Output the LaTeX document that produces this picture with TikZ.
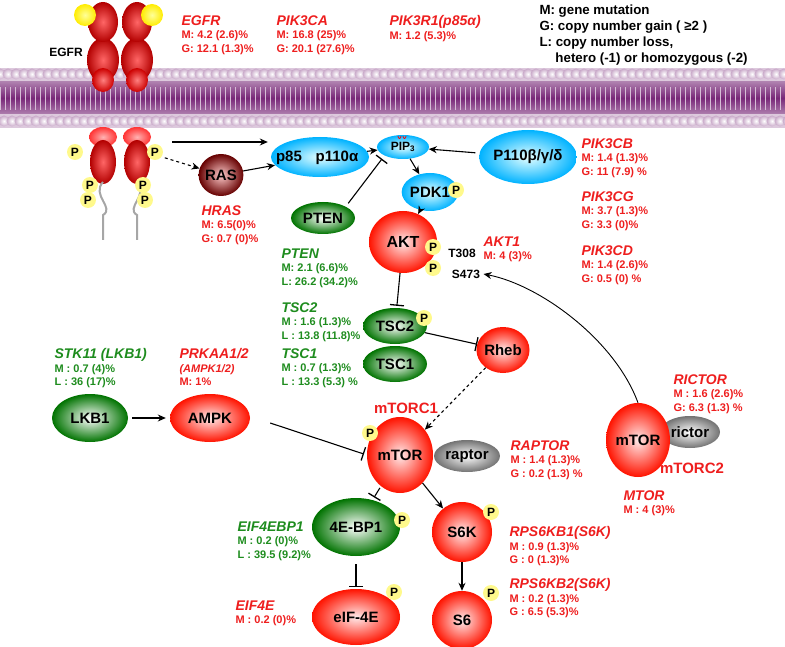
\documentclass[tikz,border=0pt]{standalone}
\usepackage{fontspec}
\setmainfont{Liberation Sans}
\usetikzlibrary{shapes.geometric,arrows.meta}
\definecolor{gred}{RGB}{238,30,30}
\definecolor{ggreen}{RGB}{30,140,30}
\definecolor{mem}{RGB}{120,40,120}
\newcommand\genef{\bfseries\itshape\fontsize{14}{15}\selectfont}
\tikzset{
  mol/.style={ellipse, draw=none, font=\bfseries\fontsize{15}{15}\selectfont, inner sep=0pt},
  red ball/.style={mol, inner color=red!8, outer color=red!85!orange},
  green ball/.style={mol, inner color=white, outer color=green!45!black},
  blue ball/.style={mol, inner color=cyan!10, outer color=cyan!70!blue},
  grey ball/.style={mol, inner color=white, outer color=black!55},
  phos/.style={circle, fill=yellow!45, inner sep=0pt, minimum size=16pt, font=\bfseries\fontsize{12}{12}\selectfont},
  redtxt/.style={anchor=north west, align=left, text=gred, font=\bfseries\fontsize{11}{13.5}\selectfont},
  greentxt/.style={redtxt, text=ggreen},
  act/.style={-{Stealth[length=8pt,width=7pt]}, line width=1.1pt},
  inh/.style={-{Bar[width=14pt,line width=1.3pt]}, line width=1.1pt},
}
\begin{document}
\begin{tikzpicture}[x=1pt,y=-1pt]
\useasboundingbox (0,0) rectangle (785,647);
% membrane
\fill[mem!25] (0,68) rectangle (785,128);
\foreach \x in {0,8,...,785} {
  \shade[inner color=white, outer color=mem!40] (\x,74) circle (5.5);
  \shade[inner color=white, outer color=mem!40] (\x+4,121) circle (5.5);
}
\shade[top color=mem!60, bottom color=mem!60, middle color=mem] (0,82) rectangle (785,114);
\foreach \x in {0,5,...,785} \draw[white!70!mem, line width=0.6pt] (\x,87) -- (\x,110);
% EGFR receptor
\foreach \cx/\s in {103/1,137/-1} {
  \shade[inner color=red!60, outer color=red!70!black] (\cx,60) ellipse (16 and 22);
  \shade[inner color=red!60, outer color=red!70!black] (\cx,22) ellipse (15 and 20);
  \shade[inner color=red!50, outer color=red!80!black] (\cx,80) ellipse (11 and 12);
  \shade[inner color=red!30, outer color=red!80] (\cx,137) ellipse (14 and 10);
  \shade[inner color=red!60, outer color=red!70!black] (\cx,162) ellipse (13 and 22);
  \draw[black!35, line width=2pt] (\cx,182) .. controls (\cx-12*\s,195) and (\cx+12*\s,208) .. (\cx,215) -- (\cx,240);
}
\shade[inner color=yellow!40, outer color=yellow!85!orange] (85,15) circle (11);
\shade[inner color=yellow!40, outer color=yellow!85!orange] (152,15) circle (11);
\node[phos] (p1) at (75,152) {P};
\node[phos] (p2) at (155,152) {P};
\node[phos] (p3) at (90,185) {P};
\node[phos] (p4) at (143,185) {P};
\node[phos] (p5) at (88,200) {P};
\node[phos] (p6) at (145,200) {P};
\node[font=\bfseries\fontsize{12}{12}\selectfont] (egfr) at (66,52) {EGFR};
% molecules
\node[mol, minimum width=40pt, minimum height=42pt, inner color=red!20, outer color=red!40!black] (ras) at (221,175) {RAS};
\node[blue ball, minimum width=98pt, minimum height=40pt] (pi3k) at (320,157) {};
\node[mol] (p85) at (289,158) {p85};
\node[mol] (p110) at (337,158) {p110α};
\node[blue ball, minimum width=52pt, minimum height=24pt, font=\bfseries\fontsize{12}{12}\selectfont] (pip) at (403,147) {PIP\textsubscript{3}};
\draw[red, line width=0.8pt] (398,136) arc (180:0:1.5 and 2.5) (403,136) arc (180:0:1.5 and 2.5);
\node[blue ball, minimum width=84pt, minimum height=54pt] (pb) at (528,157) {P110β/γ/δ};
\node[blue ball, minimum width=48pt, minimum height=38pt] (pdk) at (430,192) {PDK1};
\node[phos] (pp) at (456,190) {P};
\node[green ball, minimum width=64pt, minimum height=32pt] (pten) at (323,218) {PTEN};
\node[red ball, minimum width=68pt, minimum height=62pt, font=\bfseries\fontsize{16}{16}\selectfont] (akt) at (403,242) {AKT};
\node[phos] (pa1) at (433,247) {P};
\node[phos] (pa2) at (433,268) {P};
\node[font=\bfseries\fontsize{12}{12}\selectfont] (t308) at (462,253) {T308};
\node[font=\bfseries\fontsize{12}{12}\selectfont] (s473) at (466,274) {S473};
\node[green ball, minimum width=64pt, minimum height=36pt] (tsc1) at (395,364) {TSC1};
\node[green ball, minimum width=64pt, minimum height=36pt] (tsc2) at (395,326) {TSC2};
\node[phos] (pt) at (424,318) {P};
\node[red ball, minimum width=50pt, minimum height=46pt] (rheb) at (503,350) {Rheb};
\node[green ball, minimum width=76pt, minimum height=48pt] (lkb) at (90,418) {LKB1};
\node[red ball, minimum width=80pt, minimum height=48pt] (ampk) at (210,418) {AMPK};
\node[grey ball, minimum width=66pt, minimum height=32pt] (raptor) at (467,456) {raptor};
\node[red ball, minimum width=66pt, minimum height=76pt] (mtor) at (400,455) {mTOR};
\node[phos] (pm) at (370,433) {P};
\node[text=gred, font=\bfseries\fontsize{15}{15}\selectfont] (c1) at (406,408) {mTORC1};
\node[grey ball, minimum width=60pt, minimum height=32pt] (rictor) at (690,432) {rictor};
\node[red ball, minimum width=64pt, minimum height=74pt] (mtor2) at (638,440) {mTOR};
\node[text=gred, font=\bfseries\fontsize{15}{15}\selectfont] (c2) at (692,468) {mTORC2};
\node[green ball, minimum width=88pt, minimum height=58pt] (bp1) at (356,527) {4E-BP1};
\node[phos] (pb1) at (402,520) {P};
\node[red ball, minimum width=60pt, minimum height=60pt] (s6k) at (462,532) {S6K};
\node[phos] (pk) at (491,512) {P};
\node[red ball, minimum width=88pt, minimum height=56pt] (eif) at (356,617) {eIF-4E};
\node[phos] (pe) at (394,592) {P};
\node[red ball, minimum width=60pt, minimum height=58pt] (s6) at (462,620) {S6};
\node[phos] (ps) at (491,593) {P};
% connectors
\coordinate (e1) at (172,142);
\draw[act] (e1) -- ([xshift=-3pt]pi3k.west |- e1);
\draw[act, dashed] ([xshift=4pt]p2.south east) -- (ras);
\draw[act] (ras) -- (pi3k);
\draw[act] (pi3k) -- (pip);
\draw[act, shorten <=4pt] (pb) -- (pip);
\draw[act] (pip) -- (pdk);
\draw[inh, shorten <=4pt, shorten >=4pt] (pten.north east) -- (pip.south west);
\draw[act] (pdk) -- (akt);
\draw[inh, shorten >=2pt] (akt) -- (tsc2);
\draw[inh] (tsc2) -- (rheb);
\draw[act, dashed] (rheb) -- (mtor);
\draw[act, shorten <=4pt, shorten >=4pt] (lkb) -- (ampk);
\coordinate (ai) at ([xshift=20pt,yshift=-5pt]ampk.east);
\draw[inh, shorten >=3pt] (ai) -- (mtor.west);
\draw[act, line width=0.9pt] (mtor2.north) .. controls (615,340) and (540,285) .. (s473.east);
\draw[inh, shorten <=2pt, shorten >=3pt] (mtor) -- (bp1);
\draw[act] (mtor) -- (s6k);
\draw[inh, shorten <=8pt, shorten >=2pt] (bp1) -- (eif);
\draw[act] (s6k) -- (s6);
% gene labels
\node[redtxt] at (178,12) {{\genef EGFR}\\M: 4.2 (2.6)\%\\G: 12.1 (1.3)\%};
\node[redtxt] at (273,12) {{\genef PIK3CA}\\M: 16.8 (25)\%\\G: 20.1 (27.6)\%};
\node[redtxt] at (386,12) {{\genef PIK3R1(p85α)}\\M: 1.2 (5.3)\%};
\node[anchor=north west, align=left, font=\bfseries\fontsize{13.3}{16}\selectfont] at (536,1)
  {M: gene mutation\\G: copy number gain ( ≥2 )\\L: copy number loss,\\\hspace*{1.2em}hetero (-1) or homozygous (-2)};
\node[redtxt] at (578,135) {{\genef PIK3CB}\\M: 1.4 (1.3)\%\\G: 11 (7.9) \%};
\node[redtxt] at (578,188) {{\genef PIK3CG}\\M: 3.7 (1.3)\%\\G: 3.3 (0)\%};
\node[redtxt] at (578,242) {{\genef PIK3CD}\\M: 1.4 (2.6)\%\\G: 0.5 (0) \%};
\node[redtxt] at (198,202) {{\genef HRAS}\\M: 6.5(0)\%\\G: 0.7 (0)\%};
\node[greentxt] at (278,245) {{\genef PTEN}\\M: 2.1 (6.6)\%\\L: 26.2 (34.2)\%};
\node[redtxt] at (480,233) {{\genef AKT1}\\M: 4 (3)\%};
\node[greentxt] at (278,299) {{\genef TSC2}\\M : 1.6 (1.3)\%\\L : 13.8 (11.8)\%};
\node[greentxt] at (278,345) {{\genef TSC1}\\M : 0.7 (1.3)\%\\L : 13.3 (5.3) \%};
\node[greentxt] at (51,345) {{\genef STK11 (LKB1)}\\M : 0.7 (4)\%\\L : 36 (17)\%};
\node[redtxt] at (176,345) {{\genef PRKAA1/2}\\{\itshape (AMPK1/2)}\\M: 1\%};
\node[redtxt] at (670,371) {{\genef RICTOR}\\M : 1.6 (2.6)\%\\G: 6.3 (1.3) \%};
\node[redtxt] at (507,437) {{\genef RAPTOR}\\M : 1.4 (1.3)\%\\G : 0.2 (1.3) \%};
\node[redtxt] at (620,487) {{\genef MTOR}\\M : 4 (3)\%};
\node[greentxt] at (234,518) {{\genef EIF4EBP1}\\M : 0.2 (0)\%\\L : 39.5 (9.2)\%};
\node[redtxt] at (506,523) {{\genef RPS6KB1(S6K)}\\M : 0.9 (1.3)\%\\G : 0 (1.3)\%};
\node[redtxt] at (506,575) {{\genef RPS6KB2(S6K)}\\M : 0.2 (1.3)\%\\G : 6.5 (5.3)\%};
\node[redtxt] at (232,597) {{\genef EIF4E}\\M : 0.2 (0)\%};
\end{tikzpicture}
\end{document}
